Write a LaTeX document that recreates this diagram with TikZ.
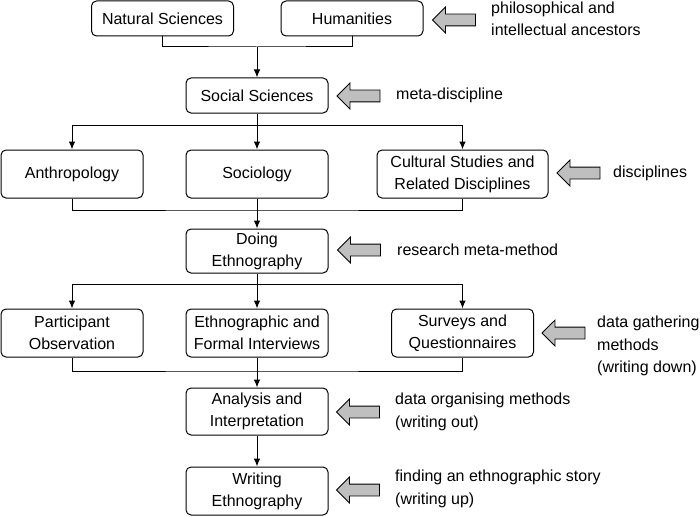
\documentclass[tikz,border=0pt]{standalone}
\usepackage{fontspec}
\setmainfont{Liberation Sans}
\usetikzlibrary{arrows.meta,shapes.arrows}

\begin{document}
\begin{tikzpicture}[
    x=1pt, y=-1pt,
    box/.style={rectangle, rounded corners=5pt, draw=black, line width=1pt, minimum width=142pt, minimum height=35pt, align=center, inner sep=0pt, font=\fontsize{16}{22}\selectfont},
    tall/.style={box, minimum height=48pt},
    hint/.style={single arrow, shape border rotate=180, draw=black, fill=gray!50, line width=0.8pt, inner sep=5.5pt, single arrow head extend=7pt, minimum height=43pt},
    note/.style={anchor=west, align=left, inner sep=0pt, font=\fontsize{16}{22.5}\selectfont},
    arrow/.style={-{Latex[length=8pt,width=6.5pt]}, line width=1pt}
]
\useasboundingbox (0,0) rectangle (700,516);

\node[box] (nat) at (162.5,18.5) {Natural Sciences};
\node[box] (hum) at (352,18.5) {Humanities};
\node[box] (soc) at (257,95.5) {Social Sciences};

\node[tall] (ant) at (72,174) {Anthropology};
\node[tall] (sociol) at (257,174) {Sociology};
\node[tall, minimum width=171pt] (cul) at (462.5,174) {Cultural Studies and\\Related Disciplines};

\node[box, minimum height=44pt] (doing) at (257,251) {Doing\\Ethnography};

\node[tall] (part) at (72,333) {Participant\\Observation};
\node[tall] (eth) at (257,333) {Ethnographic and\\Formal Interviews};
\node[tall] (surv) at (462.5,333) {Surveys and\\Questionnaires};

\node[tall, minimum height=47pt] (ana) at (257,411.5) {Analysis and\\Interpretation};
\node[tall] (wri) at (257,491) {Writing\\Ethnography};

% joins
\coordinate (j1) at (257,47);
\coordinate (j2) at (257,125);
\coordinate (j3) at (257,210);
\coordinate (j4) at (257,284);
\coordinate (j5) at (257,371);

\draw[line width=1pt] (nat) |- (j1) -| (hum);
\draw[arrow] (j1) -- (soc);

\draw[line width=1pt] (soc) -- (j2);
\draw[arrow] (j2) -| (ant);
\draw[arrow] (j2) -- (sociol);
\draw[arrow] (j2) -| (cul);

\draw[line width=1pt] (ant) |- (j3) -| (cul);
\draw[line width=1pt] (sociol) -- (j3);
\draw[arrow] (j3) -- (doing);

\draw[line width=1pt] (doing) -- (j4);
\draw[arrow] (j4) -| (part);
\draw[arrow] (j4) -- (eth);
\draw[arrow] (j4) -| (surv);

\draw[line width=1pt] (part) |- (j5) -| (surv);
\draw[line width=1pt] (eth) -- (j5);
\draw[arrow] (j5) -- (ana);
\draw[arrow] (ana) -- (wri);

% side labels
\node[hint] (h1) at (457,20) {};
\node[hint] (h2) at (361.5,96) {};
\node[hint] (h3) at (581.5,173) {};
\node[hint] (h4) at (362,250) {};
\node[hint] (h5) at (566.5,333) {};
\node[hint] (h6) at (361,412) {};
\node[hint] (h7) at (361,490) {};

\node[note] (n1) at (491,19) {philosophical and\\intellectual ancestors};
\node[note] (n2) at (396,95) {meta-discipline};
\node[note] (n3) at (613,173) {disciplines};
\node[note] (n4) at (397,250) {research meta-method};
\node[note] (n5) at (597,346) {data gathering\\methods\\(writing down)};
\node[note] (n6) at (395,412) {data organising methods\\(writing out)};
\node[note] (n7) at (395,489) {finding an ethnographic story\\(writing up)};

\end{tikzpicture}
\end{document}
